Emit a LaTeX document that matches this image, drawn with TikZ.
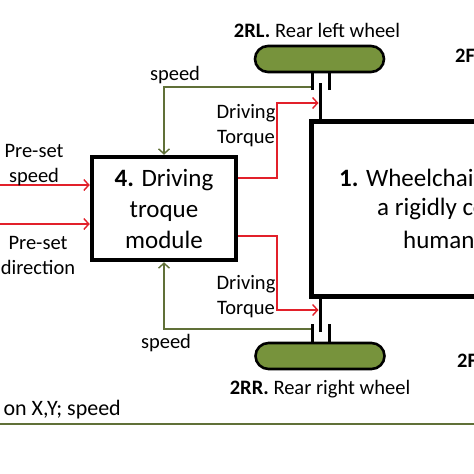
\documentclass[tikz,border=0pt]{standalone}
\usepackage{fontspec}
\setmainfont{Carlito}
\usetikzlibrary{arrows.meta}
\definecolor{redl}{RGB}{226,32,42}
\definecolor{olivel}{RGB}{96,112,56}
\definecolor{wheelg}{RGB}{119,147,60}
\tikzset{
  lbl/.style={inner sep=0pt, font=\fontsize{20.5}{25}\selectfont},
  lbl2/.style={lbl, align=center},
  big/.style={inner sep=0pt, font=\fontsize{25}{31}\selectfont},
  thickbox/.style={draw, line width=4.5pt, inner sep=0pt},
  wheel/.style={draw, line width=2.6pt, fill=wheelg, rounded corners=13pt, minimum width=129pt, minimum height=26pt, inner sep=0pt},
  axle/.style={line width=3pt},
  redarr/.style={draw=redl, line width=1.4pt, -{Straight Barb[length=5pt,width=11pt,line width=1.4pt]}},
  fb/.style={draw=olivel, line width=1.4pt, -{Straight Barb[length=5pt,width=11pt,line width=1.4pt]}},
}
\begin{document}
\begin{tikzpicture}[x=1pt,y=-1pt]
\useasboundingbox (0,0) rectangle (474,474);
\clip (0,0) rectangle (474,474);
\fill[white] (0,0) rectangle (474,474);
% driving torque module
\node[thickbox, minimum width=144pt, minimum height=103pt, align=center, big] (box4) at (164,208.5)
  {\textbf{4.} Driving\\troque\\module};
% main body
\node[thickbox, minimum width=220pt, minimum height=175pt, anchor=north west] (main) at (309,119) {};
\node[big, anchor=west] (m1) at (339,178) {\textbf{1.} Wheelchair};
\node[big, anchor=west] (m2) at (377,209) {a rigidly co};
\node[big, anchor=west] (m3) at (403,240) {human};
% wheels
\node[wheel] (wl) at (319.5,59) {};
\node[wheel] (wr) at (320,356) {};
\node[lbl, anchor=base] (wlt) at (317,37) {\textbf{2RL.} Rear left wheel};
\node[lbl, anchor=base] (wrt) at (320,394) {\textbf{2RR.} Rear right wheel};
\node[lbl, anchor=west] (ftop) at (455,56) {\textbf{2F}};
\node[lbl, anchor=west] (fbot) at (457,361) {\textbf{2F}};
% axles
\coordinate (pl1) at (312,90); \coordinate (pl2) at (329,90);
\coordinate (sl) at (320,83);
\draw[axle] (pl1) -- (pl1 |- wl.south);
\draw[axle] (pl2) -- (pl2 |- wl.south);
\draw[axle] (sl) -- (sl |- main.north);
\coordinate (pr1) at (312,324); \coordinate (pr2) at (329,324);
\coordinate (sr) at (320,332);
\draw[axle] (pr1) -- (pr1 |- wr.north);
\draw[axle] (pr2) -- (pr2 |- wr.north);
\draw[axle] (sr) -- (sr |- main.south);
% speed feedback
\coordinate (fbt) at (310.5,87);
\coordinate (fbb) at (310.5,329);
\draw[fb] (fbt) -| (box4.north);
\draw[fb] (fbb) -| (box4.south);
\node[lbl, anchor=base] (spt) at (175,80) {speed};
\node[lbl, anchor=base] (spb) at (166,348) {speed};
% driving torque
\coordinate (o1) at (238,178);
\coordinate (o2) at (238,236);
\coordinate (t1) at (318.5,103);
\coordinate (t2) at (318.5,310);
\draw[redarr] (o1) -- (277,178) |- (t1);
\draw[redarr] (o2) -- (277,236) |- (t2);
\node[lbl2] (dt1) at (246,126) {Driving\\Torque};
\node[lbl2] (dt2) at (246,297) {Driving\\Torque};
% inputs
\coordinate (i1) at (0,185);
\coordinate (i2) at (0,224);
\draw[redarr] (i1) -- (i1 -| box4.west);
\draw[redarr] (i2) -- (i2 -| box4.west);
\node[lbl2] (ps1) at (34,165.5) {Pre-set\\speed};
\node[lbl2] (ps2) at (38,255) {Pre-set\\direction};
% bottom line
\node[inner sep=0pt, font=\fontsize{22}{26}\selectfont, anchor=base east] (pos) at (121,415) {on X,Y; speed};
\coordinate (bl) at (0,424); \coordinate (br) at (474,424);
\draw[olivel, line width=1.6pt] (bl) -- (br);
\end{tikzpicture}
\end{document}
